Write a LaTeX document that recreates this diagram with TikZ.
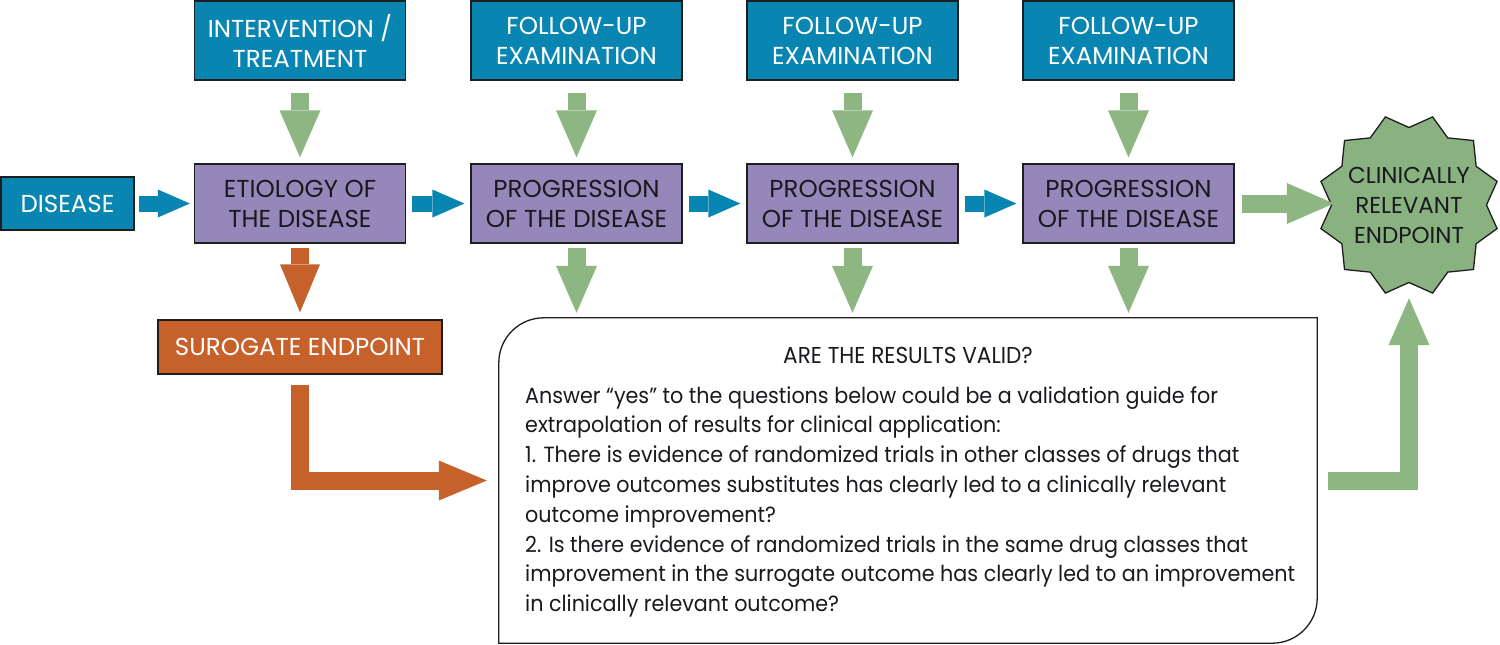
\documentclass[tikz,border=0pt]{standalone}
\usepackage{fontspec}
\setmainfont{Poppins}
\newfontfamily\bodyfont[FakeStretch=0.94]{Poppins}
\usetikzlibrary{arrows.meta,shapes.geometric,calc}
\definecolor{bblue}{RGB}{8,133,176}
\definecolor{bpurple}{RGB}{149,135,186}
\definecolor{bgreen}{RGB}{141,182,131}
\definecolor{sgreen}{RGB}{137,178,128}
\definecolor{borange}{RGB}{199,97,43}
\definecolor{bline}{RGB}{30,30,30}
\definecolor{btext}{RGB}{25,25,30}
\begin{document}
\begin{tikzpicture}[x=1pt,y=-1pt,
  box/.style={draw=bline, line width=1.3pt, inner sep=0pt, align=center,
    font=\fontsize{24.5}{30}\selectfont},
  topbox/.style={box, fill=bblue, text=white, minimum width=211pt, minimum height=79pt},
  midbox/.style={box, fill=bpurple, text=btext, minimum width=211pt, minimum height=79pt},
  greenarr/.style={draw=bgreen, line width=18pt, -{Triangle[width=41pt,length=47pt,line width=0pt]}},
  orangearr/.style={draw=borange, line width=18pt, -{Triangle[width=40pt,length=48pt,line width=0pt]}},
  bluearr/.style={draw=bblue, line width=16pt, -{Triangle[width=28pt,length=32pt,line width=0pt]}},
]
\useasboundingbox (0,0) rectangle (1500,645);
\fill[white] (0,0) rectangle (1500,645);

% top row
\node[topbox] (int) at (300,40.5) {INTERVENTION /\\TREATMENT};
\node[topbox] (fu1) at (576.5,40.5) {FOLLOW-UP\\EXAMINATION};
\node[topbox] (fu2) at (852.5,40.5) {FOLLOW-UP\\EXAMINATION};
\node[topbox] (fu3) at (1128.5,40.5) {FOLLOW-UP\\EXAMINATION};

% middle row
\node[box, fill=bblue, text=white, minimum width=133pt, minimum height=53pt] (dis) at (67.5,203.5) {DISEASE};
\node[midbox] (etio) at (300,203.5) {ETIOLOGY OF\\THE DISEASE};
\node[midbox] (p1) at (576.5,203.5) {PROGRESSION\\OF THE DISEASE};
\node[midbox] (p2) at (852.5,203.5) {PROGRESSION\\OF THE DISEASE};
\node[midbox] (p3) at (1128.5,203.5) {PROGRESSION\\OF THE DISEASE};

\node[star, star points=12, star point ratio=0.85, minimum size=155pt, inner sep=0pt,
  fill=sgreen, draw=bline, line width=1.3pt,
  label={[align=center, text=btext, font=\fontsize{23}{30}\selectfont]center:CLINICALLY\\RELEVANT\\ENDPOINT}] (end) at (1409,205) {};

% surrogate
\node[box, fill=borange, text=white, minimum width=284pt, minimum height=54pt] (sur) at (300,347) {SUROGATE ENDPOINT};

% validation box
\node[minimum width=818pt, minimum height=325pt, inner sep=0pt] (val) at (908,480.5) {};
\draw[bline, line width=1.3pt]
  (val.south west) -- ($(val.north west)+(0,45)$)
  arc[start angle=180, end angle=90, radius=45pt]
  -- (val.north east) -- ($(val.south east)+(0,-45)$)
  arc[start angle=0, end angle=-90, radius=45pt]
  -- cycle;
\node[text=btext, font=\bodyfont\fontsize{23}{30}\selectfont, anchor=base] (vt) at (908,363) {ARE THE RESULTS VALID?};
\node[text=btext, font=\bodyfont\fontsize{22}{29.8}\selectfont, align=left, anchor=north west, inner sep=0pt] (vb) at (525,386)
{Answer “yes” to the questions below could be a validation guide for\\
extrapolation of results for clinical application:\\
1. There is evidence of randomized trials in other classes of drugs that\\
improve outcomes substitutes has clearly led to a clinically relevant\\
outcome improvement?\\
2. Is there evidence of randomized trials in the same drug classes that\\
improvement in the surrogate outcome has clearly led to an improvement\\
in clinically relevant outcome?};

% arrows
\draw[greenarr, shorten <=12pt, shorten >=6pt] (int) -- (etio);
\draw[greenarr, shorten <=12pt, shorten >=6pt] (fu1) -- (p1);
\draw[greenarr, shorten <=12pt, shorten >=6pt] (fu2) -- (p2);
\draw[greenarr, shorten <=12pt, shorten >=6pt] (fu3) -- (p3);

\draw[bluearr, shorten <=4pt, shorten >=4pt] (dis) -- (etio);
\draw[bluearr, shorten <=6pt, shorten >=6pt] (etio) -- (p1);
\draw[bluearr, shorten <=6pt, shorten >=6pt] (p1) -- (p2);
\draw[bluearr, shorten <=6pt, shorten >=6pt] (p2) -- (p3);

\draw[greenarr, shorten <=7pt, shorten >=-3pt] (p3.east) -- (p3.east -| end.west);

\draw[greenarr, shorten <=4pt, shorten >=5pt] (p1.south) -- (p1.south |- val.north);
\draw[greenarr, shorten <=4pt, shorten >=5pt] (p2.south) -- (p2.south |- val.north);
\draw[greenarr, shorten <=4pt, shorten >=5pt] (p3.south) -- (p3.south |- val.north);

\draw[orangearr, shorten <=4pt, shorten >=7pt] (etio) -- (sur);
\draw[orangearr, shorten <=10pt, shorten >=12pt] (sur.south) |- (val.west);

\draw[greenarr, shorten <=11pt, shorten >=15pt] (val.east) -| (end.south);
\end{tikzpicture}
\end{document}
